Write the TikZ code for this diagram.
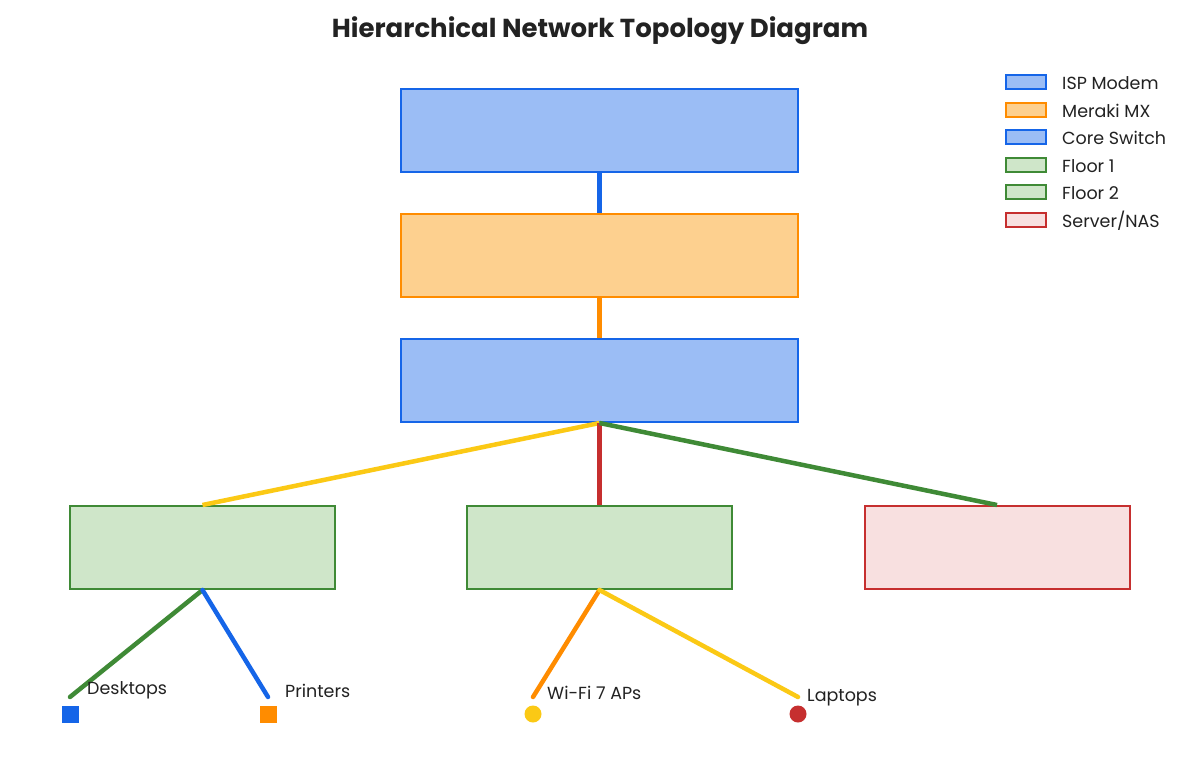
\documentclass[tikz,border=0pt]{standalone}
\usepackage{fontspec}
\setmainfont{Poppins}
\definecolor{cblue}{HTML}{1565E8}
\definecolor{fblue}{HTML}{9BBDF5}
\definecolor{corange}{HTML}{FF8C00}
\definecolor{forange}{HTML}{FDD08F}
\definecolor{cgreen}{HTML}{3F8A36}
\definecolor{fgreen}{HTML}{CFE6C9}
\definecolor{cred}{HTML}{C62F2F}
\definecolor{fred}{HTML}{F8E0E0}
\definecolor{cyellow}{HTML}{FBC915}
\definecolor{ctext}{HTML}{222222}
\begin{document}
\begin{tikzpicture}[x=1pt,y=-1pt,
  box/.style={draw=#1, line width=2pt, minimum width=397pt, minimum height=83pt, inner sep=0pt},
  lbox/.style={draw=#1, line width=2pt, minimum width=265pt, minimum height=83pt, inner sep=0pt},
  link/.style={draw=#1, line width=4.5pt},
  lab/.style={text=ctext, font=\fontsize{17.5}{20}\selectfont, inner sep=0pt, anchor=west},
  swatch/.style={draw=#1, line width=2pt, minimum width=40pt, minimum height=14pt, inner sep=0pt}
]
\useasboundingbox (0,0) rectangle (1200,763);
\fill[white] (0,0) rectangle (1200,763);
\node[text=ctext, font=\fontsize{26}{30}\selectfont\bfseries] (title) at (600,31) {Hierarchical Network Topology Diagram};

\node[box=cblue, fill=fblue] (isp) at (599.5,130.5) {};
\node[box=corange, fill=forange] (mx) at (599.5,255.5) {};
\node[box=cblue, fill=fblue] (core) at (599.5,380.5) {};
\node[lbox=cgreen, fill=fgreen] (f1) at (202.5,547.5) {};
\node[lbox=cgreen, fill=fgreen] (f2) at (599.5,547.5) {};
\node[lbox=cred, fill=fred] (nas) at (997,547.5) {};

\draw[link=cblue] (isp.south) -- (mx.north);
\draw[link=corange] (mx.south) -- (core.north);
\draw[link=cyellow] (core.south) -- (f1.north);
\draw[link=cred] (core.south) -- (f2.north);
\draw[link=cgreen] (core.south) -- (nas.north);

\coordinate (desk) at (70,697);
\coordinate (prn) at (268,697);
\coordinate (ap) at (533,697);
\coordinate (lap) at (798,697);
\draw[link=cgreen, line cap=round] (f1.south) -- (desk);
\draw[link=cblue, line cap=round] (f1.south) -- (prn);
\draw[link=corange, line cap=round] (f2.south) -- (ap);
\draw[link=cyellow, line cap=round] (f2.south) -- (lap);

\node[fill=cblue, minimum size=17pt, inner sep=0pt] (deskm) at (70,714) {};
\node[fill=corange, minimum size=17pt, inner sep=0pt] (prnm) at (268,714) {};
\node[fill=cyellow, circle, minimum size=17pt, inner sep=0pt] (apm) at (533,714) {};
\node[fill=cred, circle, minimum size=17pt, inner sep=0pt] (lapm) at (798,714) {};

\node[lab] (deskl) at (87,690) {Desktops};
\node[lab] (prnl) at (285,691) {Printers};
\node[lab] (apl) at (547,693) {Wi-Fi 7 APs};
\node[lab] (lapl) at (807,698) {Laptops};

\node[swatch=cblue, fill=fblue] (s1) at (1026,82) {};
\node[swatch=corange, fill=forange] (s2) at (1026,110) {};
\node[swatch=cblue, fill=fblue] (s3) at (1026,137) {};
\node[swatch=cgreen, fill=fgreen] (s4) at (1026,165) {};
\node[swatch=cgreen, fill=fgreen] (s5) at (1026,192) {};
\node[swatch=cred, fill=fred] (s6) at (1026,220) {};
\node[lab] (t1) at (1062,83) {ISP Modem};
\node[lab] (t2) at (1062,111) {Meraki MX};
\node[lab] (t3) at (1062,138) {Core Switch};
\node[lab] (t4) at (1062,166) {Floor 1};
\node[lab] (t5) at (1062,193) {Floor 2};
\node[lab] (t6) at (1062,221) {Server/NAS};
\end{tikzpicture}
\end{document}
